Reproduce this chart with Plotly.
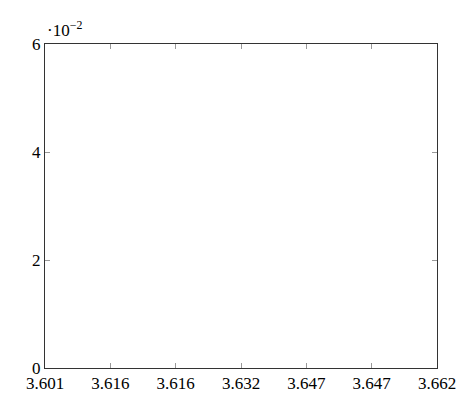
import plotly.graph_objects as go

x_tick_labels = ["3.601", "3.616", "3.616", "3.632", "3.647", "3.647", "3.662"]
x_min, x_max = 3.601, 3.662
y_ticks = [0, 2, 4, 6]
y_range = [0, 6]

n = len(x_tick_labels)
x_tick_vals = [x_min + i * (x_max - x_min) / (n - 1) for i in range(n)]

fig = go.Figure()
fig.add_trace(go.Scatter(x=[], y=[], mode="lines", showlegend=False))

font = dict(family="Liberation Serif", size=17, color="black")
axis_common = dict(showgrid=False, zeroline=False, showline=True, linecolor="#333",
                   linewidth=1, mirror="allticks", ticks="inside", ticklen=5,
                   tickcolor="#999", tickfont=font)
fig.update_xaxes(range=[x_min, x_max], tickvals=x_tick_vals, ticktext=x_tick_labels, **axis_common)
fig.update_yaxes(range=y_range, tickvals=y_ticks, **axis_common)
fig.add_annotation(text="·10<sup>−2</sup>", xref="paper", yref="paper", x=0, y=1,
                   xanchor="left", yanchor="bottom", showarrow=False, font=font, yshift=2)
fig.update_layout(width=474, height=404, margin=dict(l=37, r=45, t=36, b=44),
                  plot_bgcolor="white", paper_bgcolor="white", font=font)
fig.write_html("out.html")
